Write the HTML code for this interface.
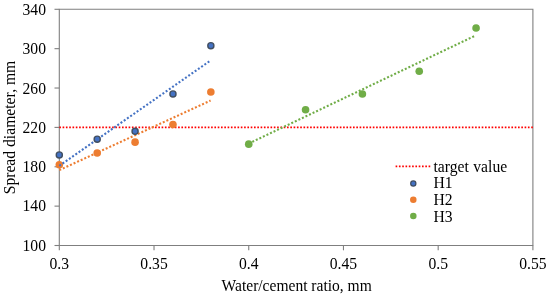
<!DOCTYPE html>
<html><head><meta charset="utf-8"><title>chart</title>
<style>html,body{margin:0;padding:0;background:#fff;overflow:hidden}
.t{font-family:"Liberation Serif",serif;font-size:15.65px;fill:#000}
</style></head><body>
<svg width="550" height="296" viewBox="0 0 550 296" style="display:block">
<rect width="550" height="296" fill="#fff"/>
<path d="M59.3 9.3H532.9V245.5H59.3Z" fill="none" stroke="#7f7f7f" stroke-width="1.1"/>
<path d="M54.5 9.30H59.3" stroke="#7f7f7f" stroke-width="1.1"/>
<text transform="translate(46.00 14.50) scale(1 1.025)" text-anchor="end" class="t">340</text>
<path d="M54.5 48.67H59.3" stroke="#7f7f7f" stroke-width="1.1"/>
<text transform="translate(46.00 53.87) scale(1 1.025)" text-anchor="end" class="t">300</text>
<path d="M54.5 88.03H59.3" stroke="#7f7f7f" stroke-width="1.1"/>
<text transform="translate(46.00 93.93) scale(1 1.025)" text-anchor="end" class="t">260</text>
<path d="M54.5 127.40H59.3" stroke="#7f7f7f" stroke-width="1.1"/>
<text transform="translate(46.00 133.00) scale(1 1.025)" text-anchor="end" class="t">220</text>
<path d="M54.5 166.77H59.3" stroke="#7f7f7f" stroke-width="1.1"/>
<text transform="translate(46.00 171.97) scale(1 1.025)" text-anchor="end" class="t">180</text>
<path d="M54.5 206.13H59.3" stroke="#7f7f7f" stroke-width="1.1"/>
<text transform="translate(46.00 211.33) scale(1 1.025)" text-anchor="end" class="t">140</text>
<path d="M54.5 245.50H59.3" stroke="#7f7f7f" stroke-width="1.1"/>
<text transform="translate(46.00 250.70) scale(1 1.025)" text-anchor="end" class="t">100</text>
<path d="M59.30 245.5V250.3" stroke="#7f7f7f" stroke-width="1.1"/>
<text transform="translate(59.30 269.10) scale(1 1.025)" text-anchor="middle" class="t">0.3</text>
<path d="M154.02 245.5V250.3" stroke="#7f7f7f" stroke-width="1.1"/>
<text transform="translate(154.02 269.10) scale(1 1.025)" text-anchor="middle" class="t">0.35</text>
<path d="M248.74 245.5V250.3" stroke="#7f7f7f" stroke-width="1.1"/>
<text transform="translate(248.74 269.10) scale(1 1.025)" text-anchor="middle" class="t">0.4</text>
<path d="M343.46 245.5V250.3" stroke="#7f7f7f" stroke-width="1.1"/>
<text transform="translate(343.46 269.10) scale(1 1.025)" text-anchor="middle" class="t">0.45</text>
<path d="M438.18 245.5V250.3" stroke="#7f7f7f" stroke-width="1.1"/>
<text transform="translate(438.18 269.10) scale(1 1.025)" text-anchor="middle" class="t">0.5</text>
<path d="M532.90 245.5V250.3" stroke="#7f7f7f" stroke-width="1.1"/>
<text transform="translate(532.90 269.10) scale(1 1.025)" text-anchor="middle" class="t">0.55</text>
<path d="M59.3 127.40H532.9" stroke="#ff0000" stroke-width="1.8" stroke-dasharray="1.65 1.65"/>
<path d="M248.74 143.54L474.71 35.93" stroke="#70ad47" stroke-width="2.1" stroke-dasharray="2.0 1.93" fill="none"/>
<circle cx="248.74" cy="144.13" r="3.8" fill="#70ad47"/>
<circle cx="305.57" cy="109.68" r="3.8" fill="#70ad47"/>
<circle cx="362.40" cy="93.94" r="3.8" fill="#70ad47"/>
<circle cx="419.24" cy="71.30" r="3.8" fill="#70ad47"/>
<circle cx="476.07" cy="28.00" r="3.8" fill="#70ad47"/>
<path d="M59.30 170.11L210.58 100.56" stroke="#ed7d31" stroke-width="2.1" stroke-dasharray="2.0 1.93" fill="none"/>
<circle cx="59.30" cy="164.80" r="3.8" fill="#ed7d31"/>
<circle cx="97.19" cy="152.99" r="3.8" fill="#ed7d31"/>
<circle cx="135.08" cy="142.16" r="3.8" fill="#ed7d31"/>
<circle cx="172.96" cy="124.45" r="3.8" fill="#ed7d31"/>
<circle cx="210.85" cy="91.97" r="3.8" fill="#ed7d31"/>
<path d="M59.30 165.78L209.62 61.14" stroke="#4472c4" stroke-width="2.1" stroke-dasharray="2.0 1.93" fill="none"/>
<circle cx="59.30" cy="154.96" r="3.05" fill="#4472c4" stroke="#414e60" stroke-width="1.4"/>
<circle cx="97.19" cy="139.21" r="3.05" fill="#4472c4" stroke="#414e60" stroke-width="1.4"/>
<circle cx="135.08" cy="131.34" r="3.05" fill="#4472c4" stroke="#414e60" stroke-width="1.4"/>
<circle cx="172.96" cy="93.94" r="3.05" fill="#4472c4" stroke="#414e60" stroke-width="1.4"/>
<circle cx="210.85" cy="45.71" r="3.05" fill="#4472c4" stroke="#414e60" stroke-width="1.4"/>
<path d="M395.6 166.4H431.9" stroke="#ff0000" stroke-width="1.8" stroke-dasharray="1.65 1.65"/>
<text transform="translate(433.50 171.60) scale(1 1.025)" text-anchor="start" class="t" style="word-spacing:0.6px">target value</text>
<circle cx="413.3" cy="183.5" r="2.6" fill="#4472c4" stroke="#3d4b5f" stroke-width="1.2"/>
<text transform="translate(433.50 188.20) scale(1 1.025)" text-anchor="start" class="t">H1</text>
<circle cx="413.3" cy="199.8" r="3.25" fill="#ed7d31"/>
<text transform="translate(433.50 205.20) scale(1 1.025)" text-anchor="start" class="t">H2</text>
<circle cx="413.3" cy="216.1" r="3.25" fill="#70ad47"/>
<text transform="translate(433.50 221.50) scale(1 1.025)" text-anchor="start" class="t">H3</text>
<text transform="translate(296.70 291.00) scale(1 1.025)" text-anchor="middle" class="t" style="font-size:15.55px">Water/cement ratio, mm</text>
<text transform="translate(15.3 127.5) rotate(-90)" text-anchor="middle" class="t">Spread diameter, mm</text>
</svg>
</body></html>
